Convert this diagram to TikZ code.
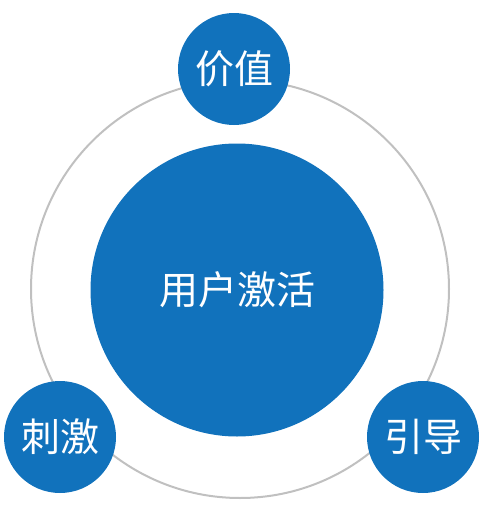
\documentclass[tikz,border=0pt]{standalone}
\usepackage{fontspec}
\newfontfamily\cjk{Noto Sans CJK SC}
\usepackage{tikz}
\usetikzlibrary{positioning}

\definecolor{actblue}{RGB}{17,114,188}
\definecolor{ringgray}{RGB}{192,192,192}

\tikzset{
  ring/.style = {circle, draw=ringgray, line width=2pt, inner sep=0pt, minimum size=418pt},
  core/.style = {circle, fill=actblue, text=white, inner sep=0pt, minimum size=293pt,
                 font=\cjk\fontsize{39}{42}\selectfont},
  petal/.style = {circle, fill=actblue, text=white, inner sep=0pt, minimum size=112pt,
                  font=\cjk\fontsize{39}{42}\selectfont}
}

\begin{document}
\begin{tikzpicture}[x=1pt, y=-1pt]
      \useasboundingbox (0,0) rectangle (488,506);
      % outer ring behind everything
      \node [ring] (loop) at (240,289) {};
      \node [core] (user) at (237,290) {用户激活};
      % the three drivers on the ring
      \node [petal] (value) at (234,69) {价值};
      \node [petal] (stim) at (60,437) {刺激};
      \node [petal] (guide) at (423,437) {引导};
    \end{tikzpicture}
\end{document}
